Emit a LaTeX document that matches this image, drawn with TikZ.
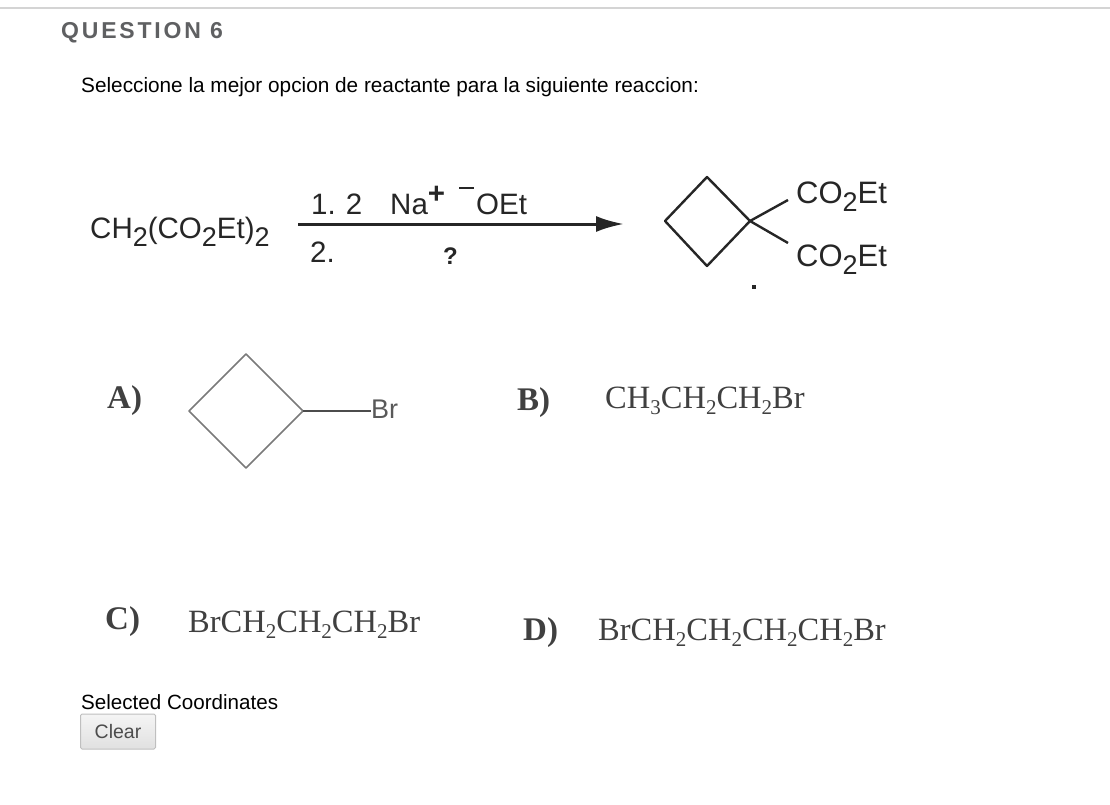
\documentclass[tikz,border=0pt]{standalone}
\usepackage{fontspec}
\setmainfont{Liberation Sans}
\newfontfamily\serifface{Liberation Serif}
\usetikzlibrary{arrows.meta,positioning}
\definecolor{headgray}{HTML}{5F6062}
\definecolor{rulegray}{HTML}{D4D4D4}
\definecolor{ringgray}{HTML}{7A7A7A}
\newcommand{\csub}[1]{\lower8pt\hbox{\fontsize{27}{27}\selectfont #1}}
\newcommand{\lsub}[1]{\lower6pt\hbox{\fontsize{21}{21}\serifface #1}}
\tikzset{
    txt/.style={inner sep=0pt, anchor=base west, text=black},
    chem/.style={txt, font=\fontsize{29.5}{29.5}\selectfont, text=black!85},
    option/.style={inner sep=0pt, anchor=base west, font=\fontsize{32.5}{32.5}\serifface, text=black!75},
    optlabel/.style={option, font=\fontsize{33}{33}\serifface\bfseries},
    bond/.style={line width=2.4pt, black!85},
    thinbond/.style={line width=1.5pt, ringgray}
}
\begin{document}
\begin{tikzpicture}[x=1pt, y=-1pt]
    \useasboundingbox (0,0) rectangle (1110,805);
    \coordinate(ruleL) at (0,8);
    \coordinate(ruleR) at (1110,8);
    \draw[rulegray, line width=2pt](ruleL) -- (ruleR);
    \node(title) [txt, text=headgray, font=\fontsize{23}{23}\selectfont\bfseries] at (61,39) {Q\kern2.8pt U\kern2.8pt E\kern2.8pt S\kern2.8pt T\kern2.8pt I\kern2.8pt O\kern2.8pt N\kern2.8pt\ 6};
    \node(prompt) [txt, font=\fontsize{20.77}{20.77}\selectfont] at (81,93) {Seleccione la mejor opcion de reactante para la siguiente reaccion:};
    % reaction
    \node(start) [chem] at (90,238) {CH\csub{2}(CO\csub{2}Et)\csub{2}};
    \coordinate(arrowL) at (298,224);
    \coordinate(arrowR) at (624,224);
    \draw[-{Latex[length=28pt,width=16pt]}, line width=3pt, black!85](arrowL) -- (arrowR);
    \node(stepone) [chem] at (311,214) {1.\kern10pt 2\kern28pt Na\raise10pt\hbox{\bfseries +}\kern14pt\raise25pt\hbox{\rule{15pt}{2pt}}\kern2pt OEt};
    \node(steptwo) [chem] at (310,262) {2.};
    \node(query) [chem, font=\fontsize{24}{24}\selectfont\bfseries] at (443,264) {?};
    % product
    \coordinate(pt) at (707,177);
    \coordinate(pl) at (665,221);
    \coordinate(pb) at (707,266);
    \coordinate(pr) at (750,221);
    \draw[bond, line join=round](pt) -- (pl) -- (pb) -- (pr) -- cycle;
    \node(esterup) [chem, font=\fontsize{31}{31}\selectfont] at (796,204) {CO\csub{2}Et};
    \node(esterdown) [chem, font=\fontsize{31}{31}\selectfont] at (796,266) {CO\csub{2}Et};
    \coordinate(upend) at (788,200);
    \coordinate(downend) at (788,243);
    \draw[bond](pr) -- (upend);
    \draw[bond](pr) -- (downend);
    \fill[black!85] (752,285) rectangle (756,289);
    % options
    \node(optA) [optlabel] at (107,408) {A)};
    \coordinate(at) at (246,354);
    \coordinate(al) at (189,411);
    \coordinate(ab) at (246,468);
    \coordinate(ar) at (303,411);
    \draw[thinbond, line join=round](at) -- (al) -- (ab) -- (ar) -- cycle;
    \node(bromide) [inner sep=0pt, anchor=base west, font=\fontsize{27}{27}\selectfont, text=black!65] at (371,418) {Br};
    \draw[line width=1.5pt, black!70](ar) -- (ar -| bromide.west);
    \node(optB) [optlabel] at (517,410) {B)};
    \node(chainB) [option] at (605,408) {CH\lsub{3}CH\lsub{2}CH\lsub{2}Br};
    \node(optC) [optlabel] at (105,629) {C)};
    \node(chainC) [option] at (188,632) {BrCH\lsub{2}CH\lsub{2}CH\lsub{2}Br};
    \node(optD) [optlabel] at (523,640) {D)};
    \node(chainD) [option] at (598,640) {BrCH\lsub{2}CH\lsub{2}CH\lsub{2}CH\lsub{2}Br};
    % footer
    \node(selected) [txt, font=\fontsize{20.6}{20.6}\selectfont] at (81,709) {Selected Coordinates};
    \node(clear) [draw=black!25, rounded corners=1.5pt, line width=1pt, top color=white!96!black, bottom color=black!12, minimum width=75pt, minimum height=35pt, inner sep=0pt, text=black!70, font=\fontsize{19.5}{19.5}\selectfont] at (118,731.5) {Clear};
\end{tikzpicture}
\end{document}
